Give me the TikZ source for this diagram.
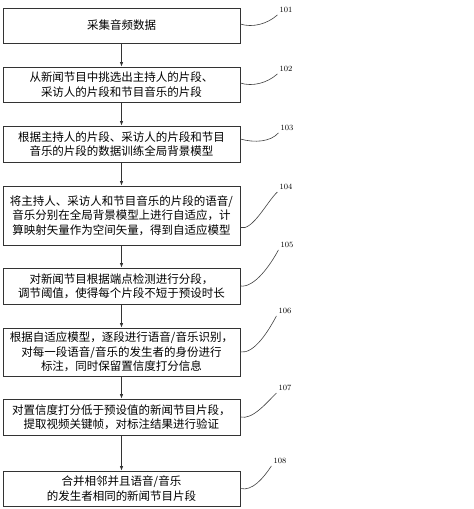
\documentclass[tikz,border=0pt]{standalone}
\usepackage{fontspec}
\newfontfamily\cjk{Noto Sans CJK SC}
\usetikzlibrary{arrows.meta}
\begin{document}
\begin{tikzpicture}[
    x=1pt, y=-1pt,  % unités en points, axe y vers le bas
    % Réglages des boîtes et des flèches
    etape/.style={draw=black!80, line width=0.8pt, minimum width=237pt,
        inner sep=2pt, align=center, font=\cjk\fontsize{11.5}{14.5}\selectfont},
    fleche/.style={draw=black!80, line width=0.8pt, -{Latex[length=4.5pt,width=3.5pt]}},
    numero/.style={inner sep=2pt, font=\fontsize{8}{9}\selectfont},
    renvoi/.style={draw=black!75, line width=0.6pt}
]
\useasboundingbox (0,0) rectangle (474,509);
% Étapes
\node[etape, minimum height=35pt] (b1) at (121.5,25.5) {采集音频数据};
\node[etape, minimum height=35pt] (b2) at (121.5,84.5) {从新闻节目中挑选出主持人的片段、\\采访人的片段和节目音乐的片段};
\node[etape, minimum height=36pt] (b3) at (121.5,144) {根据主持人的片段、采访人的片段和节目\\音乐的片段的数据训练全局背景模型};
\node[etape, minimum height=59pt] (b4) at (121.5,215.5) {将主持人、采访人和节目音乐的片段的语音/\\音乐分别在全局背景模型上进行自适应，计\\算映射矢量作为空间矢量，得到自适应模型};
\node[etape, minimum height=36pt] (b5) at (121.5,286) {对新闻节目根据端点检测进行分段，\\调节阈值，使得每个片段不短于预设时长};
\node[etape, minimum height=48pt] (b6) at (121.5,352) {根据自适应模型，逐段进行语音/音乐识别，\\对每一段语音/音乐的发生者的身份进行\\标注，同时保留置信度打分信息};
\node[etape, minimum height=36pt] (b7) at (121.5,417) {对置信度打分低于预设值的新闻节目片段，\\提取视频关键帧，对标注结果进行验证};
\node[etape, minimum height=35pt] (b8) at (121.5,488.5) {合并相邻并且语音/音乐\\的发生者相同的新闻节目片段};
% Numéros
\node[numero] (l1) at (286,10) {101};
\node[numero] (l2) at (286,69) {102};
\node[numero] (l3) at (287,128) {103};
\node[numero] (l4) at (286,187) {104};
\node[numero] (l5) at (287,245) {105};
\node[numero] (l6) at (285,311) {106};
\node[numero] (l7) at (285,388) {107};
\node[numero] (l8) at (280,461) {108};
% Flèches
\foreach \a/\b in {b1/b2,b2/b3,b3/b4,b4/b5,b5/b6,b6/b7,b7/b8}
    \draw[fleche] (\a) -- (\b);
% Traits de renvoi
\draw[renvoi] ([yshift=1.5pt]b1.east) .. controls +(12,4) and +(-10,9) .. (l1.south west);
\draw[renvoi] ([yshift=1.5pt]b2.east) .. controls +(12,4) and +(-10,9) .. (l2.south west);
\draw[renvoi] ([yshift=5pt]b3.east) .. controls +(14,4) and +(-8,9) .. (l3.south west);
\draw[renvoi] ([yshift=-12pt]b4.east) .. controls +(12,4) and +(-10,9) .. (l4.south west);
\draw[renvoi] (b5.east) .. controls +(14,2) and +(-8,15) .. (l5.south west);
\draw[renvoi] (b6.east) .. controls +(14,2) and +(-8,15) .. (l6.south west);
\draw[renvoi] (b7.east) .. controls +(12,3) and +(-10,10) .. (l7.south west);
\draw[renvoi] (b8.east) .. controls +(12,3) and +(-8,12) .. (l8.south west);
\end{tikzpicture}
\end{document}
